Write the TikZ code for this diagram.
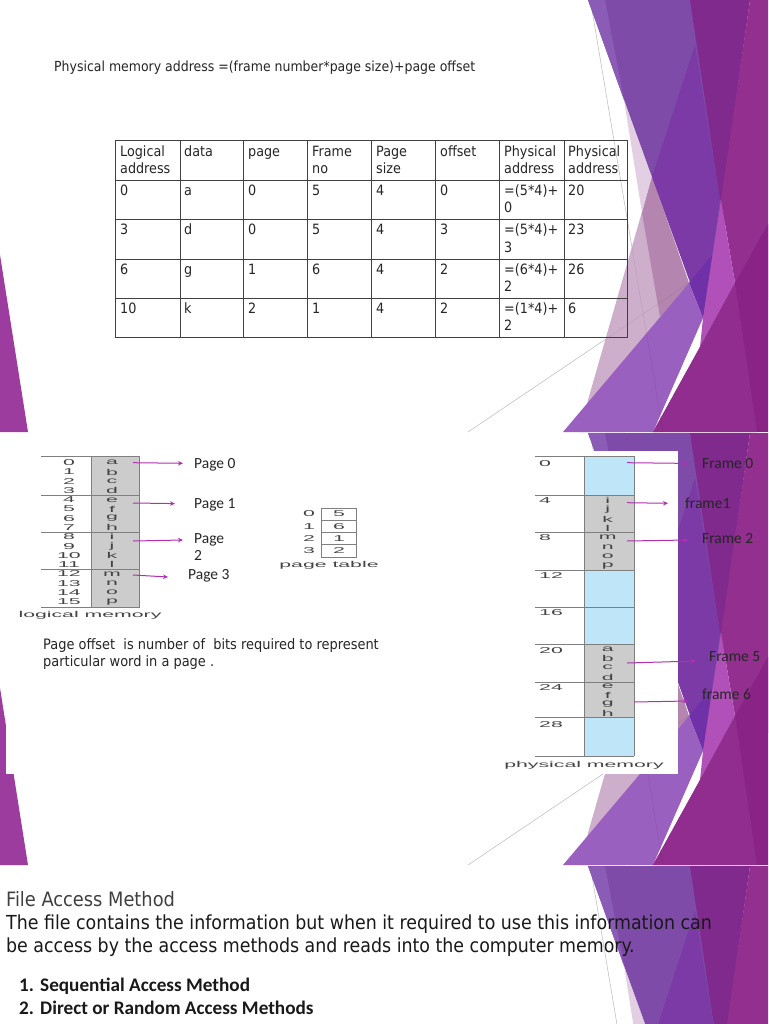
\documentclass[tikz,border=0pt]{standalone}
\usepackage{fontspec}
\usepackage{graphicx}
\setmainfont{DejaVu Sans Condensed}
\newfontfamily\calfont{Carlito}
\newfontfamily\helvfont{Liberation Sans}
\newcommand{\widetxt}[1]{\scalebox{2.5}[1]{\helvfont\fontsize{8.5}{9}\selectfont #1}}
\definecolor{violetA}{HTML}{7F4BA8}
\definecolor{violetL}{HTML}{8A5CB5}
\definecolor{violetD}{HTML}{7B3AA5}
\definecolor{violetX}{HTML}{7030A8}
\definecolor{magD}{HTML}{7F2A8C}
\definecolor{magM}{HTML}{93308F}
\definecolor{magL}{HTML}{912D8E}
\definecolor{magR}{HTML}{8A2386}
\definecolor{pinkP}{HTML}{B050B8}
\definecolor{lightP}{HTML}{9A60C0}
\definecolor{mauve}{HTML}{CDAECB}
\definecolor{brownM}{HTML}{B385AF}
\definecolor{paleM}{HTML}{E3CFE3}
\definecolor{sideP}{HTML}{9C3C9E}
\definecolor{arrowP}{HTML}{B030B0}
\definecolor{memgrey}{HTML}{CCCCCC}
\definecolor{memblue}{HTML}{BFE6F8}
\definecolor{memline}{HTML}{7F7F7F}
\definecolor{memtext}{HTML}{444444}
\usetikzlibrary{arrows.meta}
\tikzset{
  tcell/.style={anchor=base west,inner sep=0pt,font=\fontsize{14.2}{16}\selectfont,text=black!85},
  titletxt/.style={anchor=base west,inner sep=0pt,font=\fontsize{13.9}{16}\selectfont,text=black!85},
  body/.style={anchor=base west,inner sep=0pt,font=\fontsize{14.4}{16}\selectfont,text=black!85},
  lab/.style={anchor=base west,inner sep=0pt,font=\calfont\fontsize{15.5}{17}\selectfont,text=black!85},
  big/.style={anchor=base west,inner sep=0pt,font=\fontsize{19.35}{22}\selectfont,text=black!90},
  head/.style={anchor=base west,inner sep=0pt,font=\fontsize{19.8}{22}\selectfont,text=black!75},
  lst/.style={anchor=base west,inner sep=0pt,font=\calfont\bfseries\fontsize{19.2}{21}\selectfont,text=black!90},
  mem/.style={anchor=center,inner sep=0pt,text=memtext},
  memrule/.style={draw=memline,line width=0.9pt},
  gridrule/.style={draw=black!75,line width=1pt},
  pointer/.style={draw=arrowP,line width=1pt,-{Stealth[length=5pt,width=4.5pt]}},
  thin seam/.style={draw=black!20,line width=0.5pt},
  faint seam/.style={draw=black,opacity=0.07,line width=0.6pt}
}
\newcommand{\slideart}[1]{%
\begin{scope}[shift={(0,#1)}]
  \draw[thin seam] (592,10)--(663,432);
  \draw[thin seam] (468,432)--(689,283);
  \fill[sideP] (0,255)--(28,432)--(0,432)--cycle;
  \fill[mauve] (588,400)--(652,177)--(689,283)--(625,432)--(580,432)--cycle;
  \fill[paleM] (624,100)--(652,177)--(642,213)--cycle;
  \fill[brownM] (652,177)--(689,283)--(660,317)--(642,213)--cycle;
  \fill[violetA] (588,0)--(700,0)--(730,200)--(703,318)--cycle;
  \fill[violetL] (588,0)--(605,0)--(624,100)--cycle;
  \fill[violetD] (695,45)--(652,177)--(703,318)--(720,200)--cycle;
  \fill[violetX] (689,283)--(703,318)--(712,255)--cycle;
  \fill[magD] (690,0)--(750,0)--(722,200)--(720,200)--cycle;
  \fill[magM] (750,0)--(768,0)--(768,300)--(735,283)--(721,200)--cycle;
  \fill[lightP] (563,432)--(689,283)--(703,318)--(653,432)--cycle;
  \fill[pinkP] (721,200)--(735,283)--(700,347)--(703,318)--cycle;
  \fill[magR] (653,432)--(700,347)--(735,283)--(768,224)--(768,432)--cycle;
  \fill[magL] (653,432)--(700,347)--(735,283)--(757,432)--cycle;
  \draw[faint seam] (592,10)--(663,432);
  \draw[faint seam] (468,432)--(689,283);
\end{scope}}
\begin{document}
\begin{tikzpicture}[x=1pt,y=-1pt]
\useasboundingbox (0,0) rectangle (768,1024);
\begin{scope}
\clip (0,0) rectangle (768,1024);
\fill[white] (0,0) rectangle (768,1024);
\slideart{0}
\slideart{433}
\slideart{866}
\end{scope}
% white picture panel
\fill[white] (6,451) rectangle (678,774);

% title
\node[titletxt] (title) at (54,72) {Physical memory address =(frame number*page size)+page offset};

% table grid
\draw[gridrule] (115,141) rectangle (627,337);
\foreach \yy in {181,220,259,298}{\draw[gridrule] (115,\yy)--(627,\yy);}
\foreach \xx in {180,243,307,371,435,499,564}{\draw[gridrule] (\xx,141)--(\xx,337);}
% table header
\node[tcell] (h1a) at (120,157) {Logical};
\node[tcell] (h1b) at (120,174) {address};
\node[tcell] (h2) at (184,157) {data};
\node[tcell] (h3) at (248,157) {page};
\node[tcell] (h4a) at (312,157) {Frame};
\node[tcell] (h4b) at (312,174) {no};
\node[tcell] (h5a) at (376,157) {Page};
\node[tcell] (h5b) at (376,174) {size};
\node[tcell] (h6) at (440,157) {offset};
\node[tcell] (h7a) at (504,157) {Physical};
\node[tcell] (h7b) at (504,174) {address};
\node[tcell] (h8a) at (568,157) {Physical};
\node[tcell] (h8b) at (568,174) {address};
% table rows
\foreach \r/\b/\la/\da/\pg/\fr/\ps/\of/\ea/\eb/\pa in {
  1/196/0/a/0/5/4/0/{=(5*4)+}/0/20,
  2/235/3/d/0/5/4/3/{=(5*4)+}/3/23,
  3/274/6/g/1/6/4/2/{=(6*4)+}/2/26,
  4/313/10/k/2/1/4/2/{=(1*4)+}/2/6}{
  \node[tcell] (r\r c1) at (120,\b) {\la};
  \node[tcell] (r\r c2) at (184,\b) {\da};
  \node[tcell] (r\r c3) at (248,\b) {\pg};
  \node[tcell] (r\r c4) at (312,\b) {\fr};
  \node[tcell] (r\r c5) at (376,\b) {\ps};
  \node[tcell] (r\r c6) at (440,\b) {\of};
  \node[tcell] (r\r c7) at (504,\b) {\ea};
  \node[tcell] (r\r c7b) at (504,\b+17) {\eb};
  \node[tcell] (r\r c8) at (568,\b) {\pa};
}

% logical memory
\fill[memgrey] (91,456) rectangle (139.5,607);
\foreach \yy in {456,495,532,569,607}{\draw[memrule] (41,\yy)--(139.5,\yy);}
\draw[memrule] (91,456)--(91,607);
\draw[memrule] (139.5,456)--(139.5,607);
\foreach \i/\n/\l in {0/0/a,1/1/b,2/2/c,3/3/d,4/4/e,5/5/f,6/6/g,7/7/h,8/8/i,9/9/j,10/10/k,11/11/l,12/12/m,13/13/n,14/14/o,15/15/p}{
  \node[mem] (ln\i) at (69,462.7+9.27*\i) {\widetxt{\n}};
  \node[mem] (ll\i) at (112,462.7+9.27*\i) {\widetxt{\l}};
}
\node[mem] (logcap) at (90,615) {\widetxt{logical memory}};

% page labels
\node[lab] (p0) at (194,468) {Page 0};
\node[lab] (p1) at (194,508) {Page 1};
\node[lab] (p2a) at (194,543) {Page};
\node[lab] (p2b) at (194,560) {2};
\node[lab] (p3) at (188,579) {Page 3};
\coordinate (a0) at (133,462.7); \coordinate (b0) at (183,463.3);
\coordinate (a1) at (133,503); \coordinate (b1) at (175,503.6);
\coordinate (a2) at (133,541); \coordinate (b2) at (183,540);
\coordinate (a3) at (133,575); \coordinate (b3) at (168,577);
\foreach \k in {0,1,2,3}{\draw[pointer] (a\k)--(b\k);}

% page table
\draw[memrule] (321,508) rectangle (356,557);
\foreach \yy in {520.2,532.5,544.7}{\draw[memrule] (321,\yy)--(356,\yy);}
\foreach \i/\v in {0/5,1/6,2/1,3/2}{
  \node[mem] (ptn\i) at (309,514+12.25*\i) {\widetxt{\i}};
  \node[mem] (ptv\i) at (339,514+12.25*\i) {\widetxt{\v}};
}
\node[mem] (ptcap) at (329,565) {\widetxt{page table}};

% offset note
\node[body] (off1) at (43,649) {Page offset\ \ is number of\ \ bits required to represent};
\node[body] (off2) at (43,666) {particular word in a page .};

% physical memory
\fill[memblue] (584,456) rectangle (634,756);
\fill[memgrey] (584,495) rectangle (634,570.5);
\fill[memgrey] (584,644.7) rectangle (634,717.7);
\foreach \yy in {456,495,532,570.5,607.3,644.7,682.3,717.7,756}{\draw[memrule] (535,\yy)--(634,\yy);}
\draw[memrule] (584,456)--(584,756);
\draw[memrule] (634,456)--(634,756);
\foreach \v/\yy in {0/464,4/501,8/538,12/576,16/613,20/651,24/688,28/725}{
  \node[mem,anchor=west] (fn\v) at (539,\yy) {\widetxt{\v}};
}
\foreach \l/\yy in {i/500,j/509,k/519,l/528,m/537,n/547,o/556,p/566,a/649,b/658,c/667,d/677,e/686,f/695,g/704,h/713}{
  \node[mem] (fl\l) at (607.7,\yy) {\widetxt{\l}};
}
\node[mem] (phycap) at (584,765) {\widetxt{physical memory}};

% frame labels
\node[lab] (f0) at (702,468) {Frame 0};
\node[lab] (f1) at (685,508) {frame1};
\node[lab] (f2) at (702,543) {Frame 2};
\node[lab] (f5) at (709,661) {Frame 5};
\node[lab] (f6) at (702,699) {frame 6};
\coordinate (c0) at (627,462.7); \coordinate (d0) at (688,463.4);
\coordinate (c1) at (627,502.7); \coordinate (d1) at (668,503.3);
\coordinate (c2) at (627,541); \coordinate (d2) at (688,540);
\coordinate (c5) at (627,663); \coordinate (d5) at (696,661);
\coordinate (c6) at (634,702); \coordinate (d6) at (688,701);
\foreach \k in {0,1,2,5,6}{\draw[pointer] (c\k)--(d\k);}

% bottom slide
\node[head] (bt) at (6,906) {File Access Method};
\node[big] (b1) at (6,929) {The file contains the information but when it required to use this information can};
\node[big] (b2) at (6,952) {be access by the access methods and reads into the computer memory.};
\node[lst] (l1) at (19,991) {\makebox[21pt][l]{1.}Sequential Access Method};
\node[lst] (l2) at (19,1014) {\makebox[21pt][l]{2.}Direct or Random Access Methods};
\end{tikzpicture}
\end{document}
